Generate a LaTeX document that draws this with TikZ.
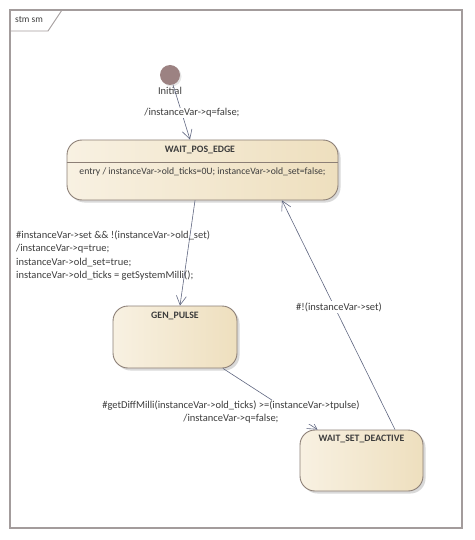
\documentclass[tikz,border=0pt]{standalone}
\usepackage{fontspec}
\setmainfont{Carlito}
\usetikzlibrary{arrows.meta,shadows}
\definecolor{framec}{HTML}{A39C9C}
\definecolor{statebd}{HTML}{8C7F76}
\definecolor{stateL}{HTML}{F8F1E2}
\definecolor{stateR}{HTML}{EEDFBE}
\definecolor{linec}{HTML}{5F6680}
\definecolor{txtc}{HTML}{3C3C3C}
\definecolor{initc}{HTML}{9C8282}
\tikzset{
  statebox/.style={draw=statebd, line width=0.9pt, rounded corners=15pt,
    left color=stateL, right color=stateR, inner sep=0pt,
    drop shadow={shadow xshift=2.5pt, shadow yshift=-2.5pt, opacity=0.25, fill=black!60}},
  sttitle/.style={font=\fontsize{9.8}{11}\selectfont\bfseries, text=txtc, inner sep=0pt},
  lbl/.style={font=\fontsize{10.5}{12}\selectfont, text=txtc, inner sep=1pt},
  trans/.style={draw=linec, line width=0.6pt, -{Straight Barb[length=9pt,width=10pt,line width=0.6pt]}},
}
\begin{document}
\begin{tikzpicture}[x=1pt,y=-1pt]
\useasboundingbox (0,0) rectangle (474,540);
% frame
\draw[framec, line width=1.2pt] (10,10) rectangle (462,528);
\draw[framec, line width=0.9pt] (10,31) -- (48,31) -- (62,10);
\node[lbl, anchor=west, font=\fontsize{9.5}{11}\selectfont] (tab) at (14,20) {stm sm};
% initial
\node[circle, fill=initc, minimum size=20pt, inner sep=0pt,
  drop shadow={shadow xshift=1.5pt, shadow yshift=-1.5pt, opacity=0.2}] (init) at (170,75) {};
\node[lbl] (initlbl) at (170,91) {Initial};
% states
\node[statebox, minimum width=271pt, minimum height=60pt] (wpe) at (202.5,170) {};
\node[sttitle] (wpet) at (200,150) {WAIT\_POS\_EDGE};
\draw[statebd, line width=0.7pt] (wpe.west |- 0,162) -- (wpe.east |- 0,162);
\node[lbl, font=\fontsize{9.7}{11}\selectfont] (wpee) at (202.5,171.5) {entry / instanceVar->old\_ticks=0U; instanceVar->old\_set=false;};
\node[statebox, minimum width=124pt, minimum height=62pt] (gp) at (175,337) {};
\node[sttitle] (gpt) at (175,316) {GEN\_PULSE};
\node[statebox, minimum width=123pt, minimum height=61pt] (wsd) at (361.5,460.5) {};
\node[sttitle] (wsdt) at (361.5,439) {WAIT\_SET\_DEACTIVE};
% transitions
\draw[trans] (init) -- ([xshift=-12.5pt]wpe.north);
\node[lbl, fill=white] (l1) at (192,113) {/instanceVar->q=false;};
\draw[trans] ([xshift=-7.5pt]wpe.south) -- ([xshift=5pt]gp.north);
\node[lbl, anchor=north west, align=left, inner sep=0pt, font=\fontsize{10.5}{13.5}\selectfont] (l2) at (16,230.5)
  {\#instanceVar->set \&\& !(instanceVar->old\_set)\\/instanceVar->q=true;\\instanceVar->old\_set=true;\\instanceVar->old\_ticks = getSystemMilli();};
\draw[trans] ([xshift=48pt]gp.south) -- ([xshift=-44pt]wsd.north);
\node[lbl, fill=white, align=center, font=\fontsize{10.5}{13.5}\selectfont] (l3) at (231,412)
  {\#getDiffMilli(instanceVar->old\_ticks) >=(instanceVar->tpulse)\\/instanceVar->q=false;};
\draw[trans] ([xshift=33.5pt]wsd.north) -- ([xshift=79.5pt]wpe.south);
\node[lbl, fill=white] (l4) at (339,307) {\#!(instanceVar->set)};
\end{tikzpicture}
\end{document}
